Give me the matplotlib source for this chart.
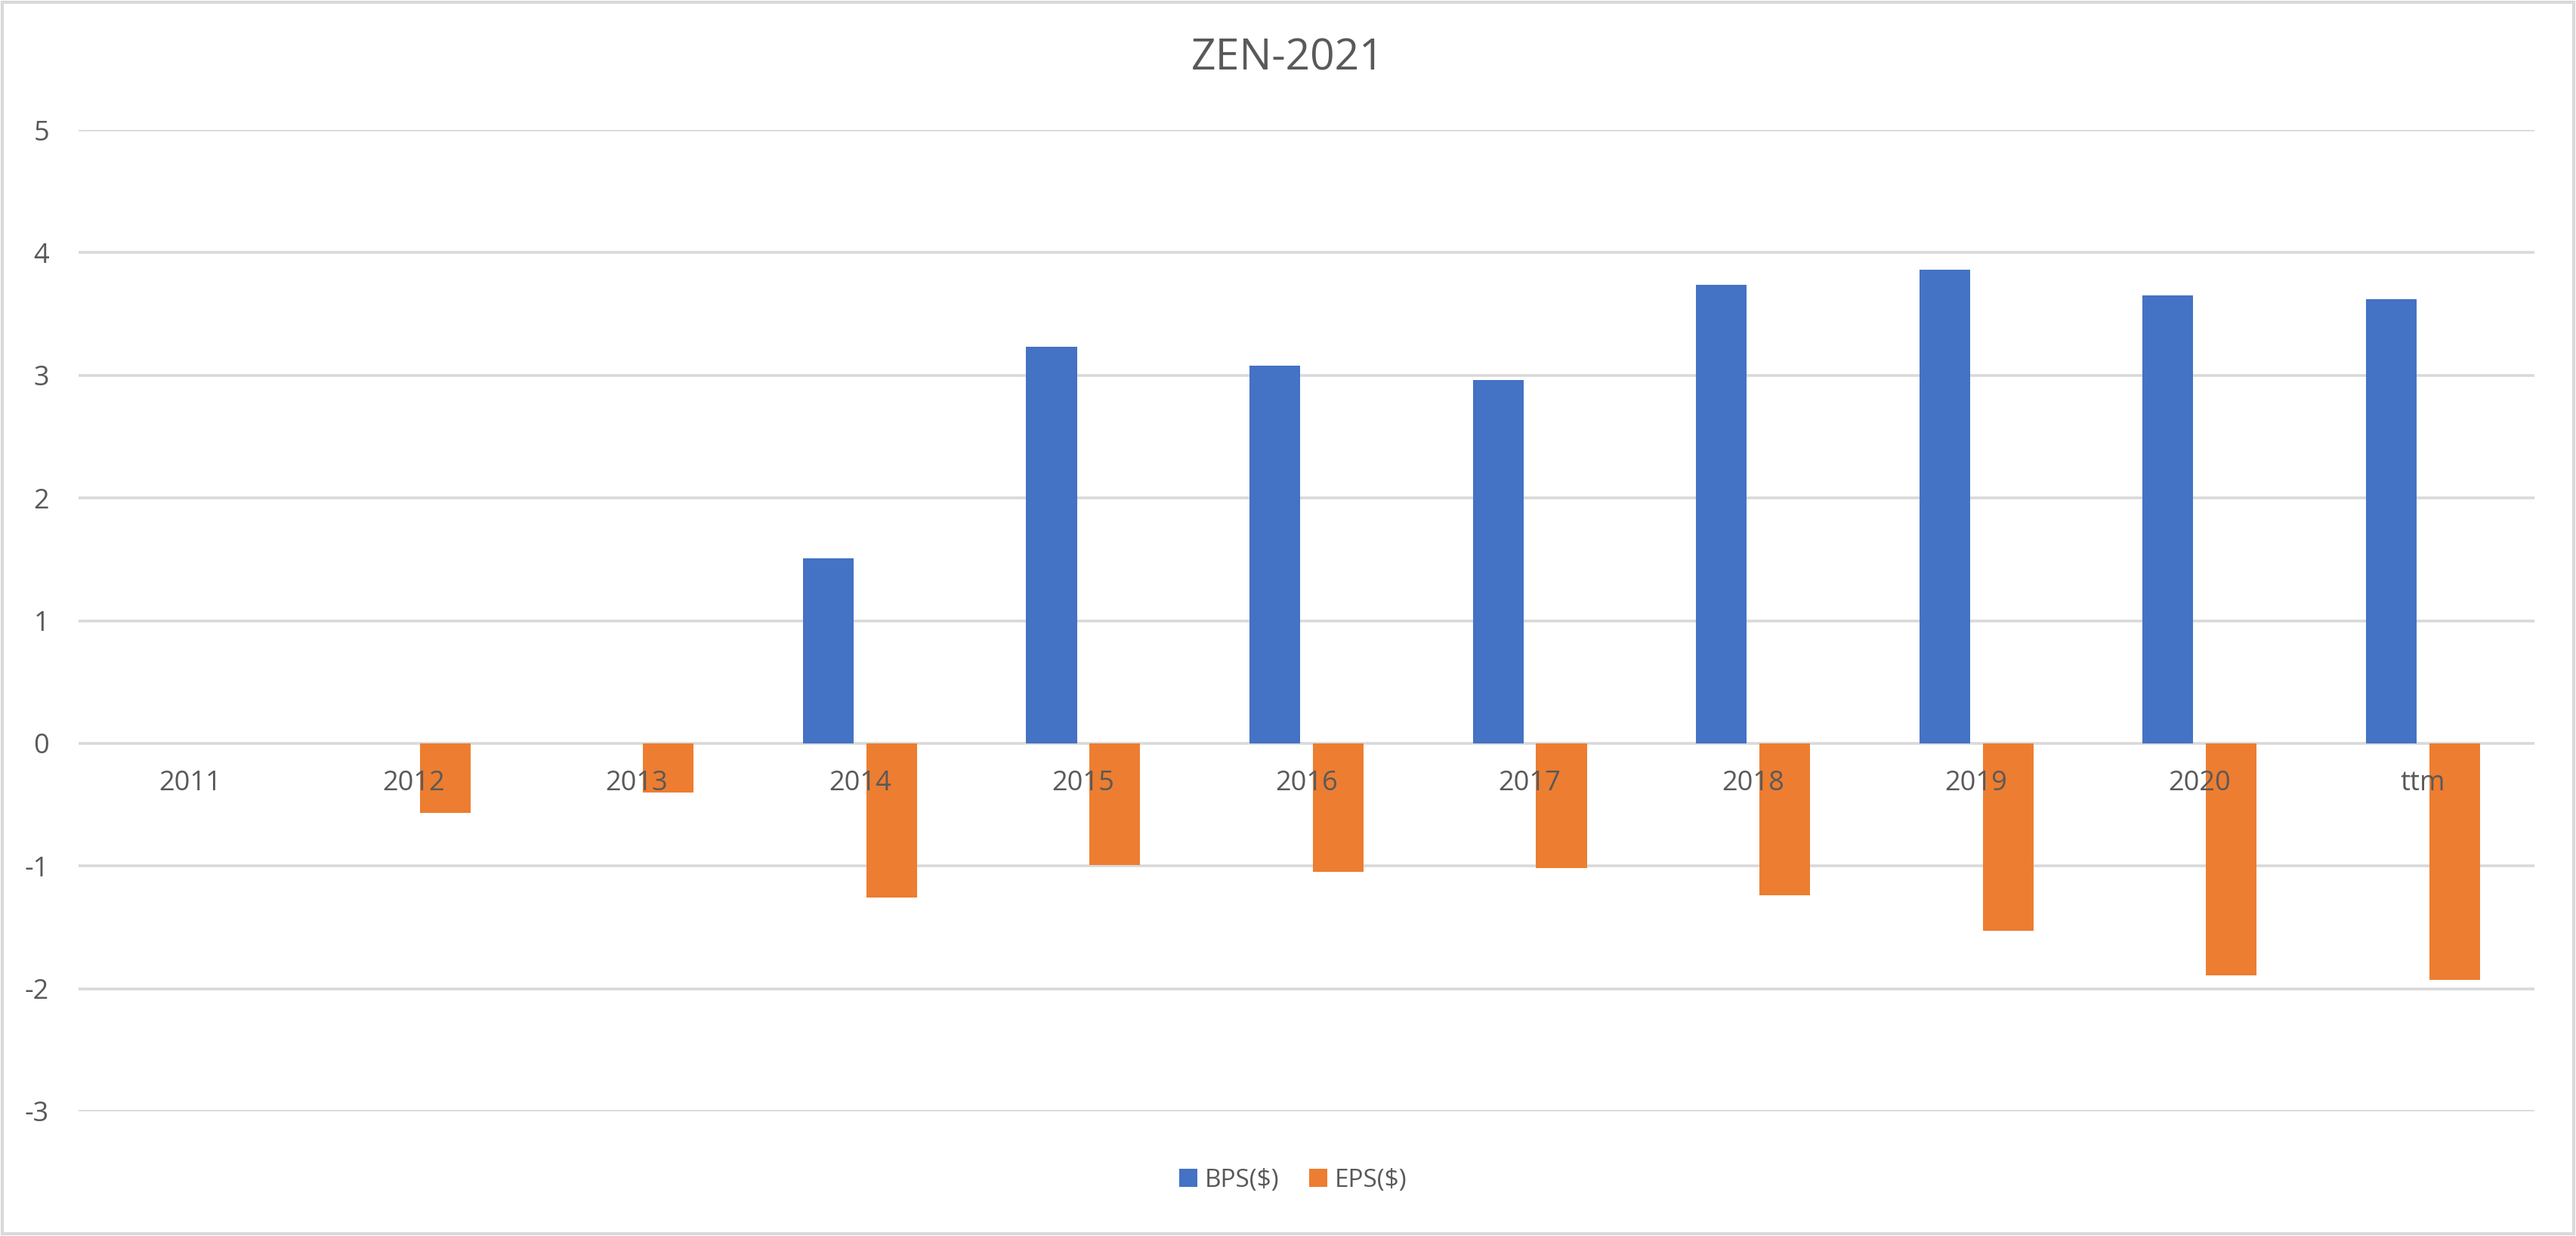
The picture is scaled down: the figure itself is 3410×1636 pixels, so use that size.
import matplotlib
matplotlib.use("Agg")
import matplotlib.pyplot as plt
from matplotlib.patches import Rectangle
import numpy as np

categories = ["2011", "2012", "2013", "2014", "2015", "2016", "2017", "2018", "2019", "2020", "ttm"]
bps = [0, 0, 0, 1.51, 3.23, 3.08, 2.96, 3.74, 3.86, 3.65, 3.62]
eps = [0, -0.57, -0.40, -1.26, -0.99, -1.05, -1.02, -1.24, -1.53, -1.89, -1.93]
yticks = [-3, -2, -1, 0, 1, 2, 3, 4, 5]

BLUE = "#4472C4"
ORANGE = "#ED7D31"
GRID = "#D9D9D9"
TXT = "#595959"
FONT = ["Open Sans", "DejaVu Sans"]
plt.rcParams["font.family"] = FONT

dpi = 200
fig = plt.figure(figsize=(3410 / dpi, 1636 / dpi), dpi=dpi)
ax = fig.add_axes([104 / 3410, 1 - 1471 / 1636, 3251 / 3410, (1471 - 172) / 1636])

x = np.arange(len(categories))
w = 0.227
off = 0.142
b1 = ax.bar(x - off, bps, width=w, color=BLUE, label="BPS($)", zorder=3)
b2 = ax.bar(x + off, eps, width=w, color=ORANGE, label="EPS($)", zorder=3)

ax.set_xlim(-0.5, len(categories) - 0.5)
ax.set_ylim(-3, 5)
ax.set_yticks(yticks)
ax.set_yticklabels([str(t) for t in yticks], fontsize=13, color=TXT)
ax.tick_params(axis="y", length=0, pad=14)
ax.set_xticks([])
ax.grid(axis="y", color=GRID, linewidth=1.3, zorder=0)
for s in ax.spines.values():
    s.set_visible(False)

for i, c in enumerate(categories):
    ax.annotate(c, xy=(i, 0), xytext=(0, -53), textcoords="offset pixels",
                ha="center", va="center", fontsize=13, color=TXT, zorder=4)

fig.text(0.5, 1 - 78 / 1636, "ZEN-2021", ha="center", va="center", fontsize=20.5, color=TXT)

fig.legend(handles=[b1, b2], labels=["BPS($)", "EPS($)"], loc="center",
           bbox_to_anchor=(0.502, 1 - 1562 / 1636), ncol=2, frameon=False,
           fontsize=12, handlelength=0.7, handleheight=0.7, handletextpad=0.3,
           columnspacing=1.2, labelcolor=TXT)

fig.patches.append(Rectangle((0.001, 0.002), 0.998, 0.996, transform=fig.transFigure,
                             fill=False, edgecolor=GRID, linewidth=1.5))

fig.savefig("out.png", dpi=dpi, facecolor="white")
